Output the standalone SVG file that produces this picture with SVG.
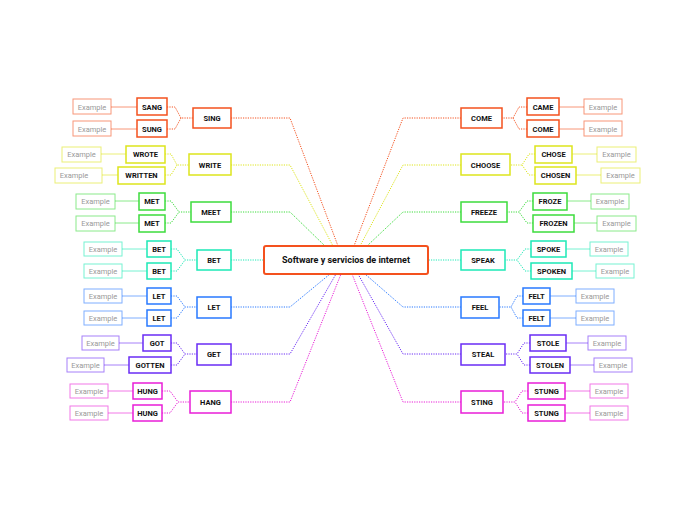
<svg xmlns="http://www.w3.org/2000/svg" width="697" height="520" viewBox="0 0 697 520">
<style>
text{font-family:Roboto,"Liberation Sans",sans-serif;font-size:7.5px;text-anchor:middle;dominant-baseline:central}
.n{fill:#fff;stroke-width:1.5}
.t{font-weight:bold;fill:#111}
.e{fill:#fff;stroke-width:1;stroke-opacity:.6}
.et{fill:#999}
.d{fill:none;stroke-width:1;stroke-dasharray:1.2 1.2}
.s{fill:none;stroke-width:1;stroke-opacity:.6}
.c1{stroke:#f4511e}.c2{stroke:#dde51d}.c3{stroke:#3ddc3d}.c4{stroke:#1de9b6}.c5{stroke:#2979ff}.c6{stroke:#6a2cf5}.c7{stroke:#e91ed7}
</style>
<rect width="697" height="520" fill="#fff"/>
<g id="connectors">
<path class="d c1" d="M231,118H290L338,246"/><path class="d c2" d="M231,165H290L333,246"/><path class="d c3" d="M231,212H290L325,246"/><path class="d c4" d="M231,260H264"/><path class="d c5" d="M231,307H290L330,274"/><path class="d c6" d="M231,354H290L336,274"/><path class="d c7" d="M231,402H290L341,274"/>
<path class="d c1" d="M461,118H403L354,246"/><path class="d c2" d="M461,165H403L360,246"/><path class="d c3" d="M461,212H403L367,246"/><path class="d c4" d="M461,260H428"/><path class="d c5" d="M461,307H403L365,274"/><path class="d c6" d="M461,354H403L358,274"/><path class="d c7" d="M461,402H403L352,274"/>
<path class="d c1" d="M167,107H175L181,118H193M167,129H175L181,118"/>
<path class="d c2" d="M165,154H171L177,165H189M165,175H171L177,165"/>
<path class="d c3" d="M165,201H171L179,212H191M165,223H171L179,212"/>
<path class="d c4" d="M171,249H177L185,260H197M171,271H177L185,260"/>
<path class="d c5" d="M171,296H177L185,307H197M171,318H177L185,307"/>
<path class="d c6" d="M171,343H177L185,354H197M171,365H177L185,354"/>
<path class="d c7" d="M162,391H170L178,402H190M162,413H170L178,402"/>
<path class="d c1" d="M527,107H519L513,118H502M527,129H519L513,118"/>
<path class="d c2" d="M535,154H529L522,165H510M535,175H529L522,165"/>
<path class="d c3" d="M533,201H527L519,212H507M533,223H527L519,212"/>
<path class="d c4" d="M531,249H525L517,260H505M531,271H525L517,260"/>
<path class="d c5" d="M523,296H517L511,307H499M523,318H517L511,307"/>
<path class="d c6" d="M530,343H524L517,354H505M530,365H524L517,354"/>
<path class="d c7" d="M528,391H522L515,402H503M528,413H522L515,402"/>
<path class="s c1" d="M111,107H137M111,129H137M559,107H584M559,129H584"/>
<path class="s c2" d="M101,154H126M102,175H118M572,154H597M576,175H601"/>
<path class="s c3" d="M115,201H139M115,223H139M567,201H591M574,223H597"/>
<path class="s c4" d="M122,249H147M122,271H147M566,249H590M572,271H596"/>
<path class="s c5" d="M122,296H147M122,318H147M550,296H576M550,318H576"/>
<path class="s c6" d="M119,343H143M104,365H129M566,343H588M570,365H594"/>
<path class="s c7" d="M108,391H133M108,413H133M565,391H590M565,413H590"/>
</g>
<g id="center"><rect x="264" y="246" width="164" height="28" rx="2" fill="#fff" stroke="#f4511e" stroke-width="2"/><text x="346" y="260" class="t" style="font-size:9px">Software y servicios de internet</text></g>
<g id="sing"><rect class="n c1" x="193" y="108" width="38" height="20"/><text class="t" x="212" y="118">SING</text>
<rect class="n c1" x="137" y="98" width="30" height="17"/><text class="t" x="152" y="107">SANG</text>
<rect class="n c1" x="137" y="120" width="30" height="17"/><text class="t" x="152" y="129">SUNG</text>
<rect class="e c1" x="73" y="99" width="38" height="15"/><text class="et" x="92" y="107">Example</text>
<rect class="e c1" x="73" y="121" width="38" height="15"/><text class="et" x="92" y="129">Example</text></g>
<g id="write"><rect class="n c2" x="189" y="154" width="42" height="21"/><text class="t" x="210" y="165">WRITE</text>
<rect class="n c2" x="126" y="146" width="39" height="17"/><text class="t" x="145.5" y="154">WROTE</text>
<rect class="n c2" x="118" y="167" width="47" height="17"/><text class="t" x="141.5" y="175">WRITTEN</text>
<rect class="e c2" x="62" y="147" width="39" height="15"/><text class="et" x="81.5" y="154">Example</text>
<rect class="e c2" x="55" y="168" width="47" height="15"/><text class="et" x="74" y="175">Example</text></g>
<g id="meet"><rect class="n c3" x="191" y="202" width="40" height="20"/><text class="t" x="211" y="212">MEET</text>
<rect class="n c3" x="139" y="193" width="26" height="17"/><text class="t" x="152" y="201">MET</text>
<rect class="n c3" x="139" y="215" width="26" height="17"/><text class="t" x="152" y="223">MET</text>
<rect class="e c3" x="76" y="194" width="39" height="15"/><text class="et" x="95.5" y="201">Example</text>
<rect class="e c3" x="76" y="216" width="39" height="15"/><text class="et" x="95.5" y="223">Example</text></g>
<g id="bet"><rect class="n c4" x="197" y="250" width="34" height="20"/><text class="t" x="214" y="260">BET</text>
<rect class="n c4" x="147" y="241" width="24" height="16"/><text class="t" x="159" y="249">BET</text>
<rect class="n c4" x="147" y="263" width="24" height="16"/><text class="t" x="159" y="271">BET</text>
<rect class="e c4" x="84" y="242" width="38" height="14"/><text class="et" x="103" y="249">Example</text>
<rect class="e c4" x="84" y="264" width="38" height="14"/><text class="et" x="103" y="271">Example</text></g>
<g id="let"><rect class="n c5" x="197" y="297" width="34" height="21"/><text class="t" x="214" y="307">LET</text>
<rect class="n c5" x="147" y="288" width="24" height="16"/><text class="t" x="159" y="296">LET</text>
<rect class="n c5" x="147" y="310" width="24" height="16"/><text class="t" x="159" y="318">LET</text>
<rect class="e c5" x="84" y="289" width="38" height="14"/><text class="et" x="103" y="296">Example</text>
<rect class="e c5" x="84" y="311" width="38" height="14"/><text class="et" x="103" y="318">Example</text></g>
<g id="get"><rect class="n c6" x="197" y="344" width="34" height="21"/><text class="t" x="214" y="354">GET</text>
<rect class="n c6" x="143" y="335" width="28" height="16"/><text class="t" x="157" y="343">GOT</text>
<rect class="n c6" x="129" y="357" width="42" height="16"/><text class="t" x="150" y="365">GOTTEN</text>
<rect class="e c6" x="82" y="336" width="37" height="14"/><text class="et" x="100.5" y="343">Example</text>
<rect class="e c6" x="67" y="358" width="37" height="14"/><text class="et" x="85.5" y="365">Example</text></g>
<g id="hang"><rect class="n c7" x="190" y="391" width="41" height="22"/><text class="t" x="210.5" y="402">HANG</text>
<rect class="n c7" x="133" y="383" width="29" height="16"/><text class="t" x="147.5" y="391">HUNG</text>
<rect class="n c7" x="133" y="405" width="29" height="16"/><text class="t" x="147.5" y="413">HUNG</text>
<rect class="e c7" x="70" y="384" width="38" height="14"/><text class="et" x="89" y="391">Example</text>
<rect class="e c7" x="70" y="406" width="38" height="14"/><text class="et" x="89" y="413">Example</text></g>
<g id="come"><rect class="n c1" x="461" y="108" width="41" height="20"/><text class="t" x="481.5" y="118">COME</text>
<rect class="n c1" x="527" y="98" width="32" height="17"/><text class="t" x="543" y="107">CAME</text>
<rect class="n c1" x="527" y="120" width="32" height="17"/><text class="t" x="543" y="129">COME</text>
<rect class="e c1" x="584" y="99" width="38" height="15"/><text class="et" x="603" y="107">Example</text>
<rect class="e c1" x="584" y="121" width="38" height="15"/><text class="et" x="603" y="129">Example</text></g>
<g id="choose"><rect class="n c2" x="461" y="154" width="49" height="21"/><text class="t" x="485.5" y="165">CHOOSE</text>
<rect class="n c2" x="535" y="146" width="37" height="17"/><text class="t" x="553.5" y="154">CHOSE</text>
<rect class="n c2" x="535" y="167" width="41" height="17"/><text class="t" x="555.5" y="175">CHOSEN</text>
<rect class="e c2" x="597" y="147" width="39" height="15"/><text class="et" x="616.5" y="154">Example</text>
<rect class="e c2" x="601" y="168" width="39" height="15"/><text class="et" x="620.5" y="175">Example</text></g>
<g id="freeze"><rect class="n c3" x="461" y="202" width="46" height="20"/><text class="t" x="484" y="212">FREEZE</text>
<rect class="n c3" x="533" y="193" width="34" height="17"/><text class="t" x="550" y="201">FROZE</text>
<rect class="n c3" x="533" y="215" width="41" height="17"/><text class="t" x="553.5" y="223">FROZEN</text>
<rect class="e c3" x="591" y="194" width="38" height="15"/><text class="et" x="610" y="201">Example</text>
<rect class="e c3" x="597" y="216" width="39" height="15"/><text class="et" x="616.5" y="223">Example</text></g>
<g id="speak"><rect class="n c4" x="461" y="250" width="44" height="20"/><text class="t" x="483" y="260">SPEAK</text>
<rect class="n c4" x="531" y="241" width="35" height="16"/><text class="t" x="548.5" y="249">SPOKE</text>
<rect class="n c4" x="531" y="263" width="41" height="16"/><text class="t" x="551.5" y="271">SPOKEN</text>
<rect class="e c4" x="590" y="242" width="38" height="14"/><text class="et" x="609" y="249">Example</text>
<rect class="e c4" x="596" y="264" width="38" height="14"/><text class="et" x="615" y="271">Example</text></g>
<g id="feel"><rect class="n c5" x="461" y="297" width="38" height="21"/><text class="t" x="480" y="307">FEEL</text>
<rect class="n c5" x="523" y="288" width="27" height="16"/><text class="t" x="536.5" y="296">FELT</text>
<rect class="n c5" x="523" y="310" width="27" height="16"/><text class="t" x="536.5" y="318">FELT</text>
<rect class="e c5" x="576" y="289" width="38" height="14"/><text class="et" x="595" y="296">Example</text>
<rect class="e c5" x="576" y="311" width="38" height="14"/><text class="et" x="595" y="318">Example</text></g>
<g id="steal"><rect class="n c6" x="461" y="344" width="44" height="21"/><text class="t" x="483" y="354">STEAL</text>
<rect class="n c6" x="530" y="335" width="36" height="16"/><text class="t" x="548" y="343">STOLE</text>
<rect class="n c6" x="530" y="357" width="40" height="16"/><text class="t" x="550" y="365">STOLEN</text>
<rect class="e c6" x="588" y="336" width="38" height="14"/><text class="et" x="607" y="343">Example</text>
<rect class="e c6" x="594" y="358" width="38" height="14"/><text class="et" x="613" y="365">Example</text></g>
<g id="sting"><rect class="n c7" x="461" y="391" width="42" height="22"/><text class="t" x="482" y="402">STING</text>
<rect class="n c7" x="528" y="383" width="37" height="16"/><text class="t" x="546.5" y="391">STUNG</text>
<rect class="n c7" x="528" y="405" width="37" height="16"/><text class="t" x="546.5" y="413">STUNG</text>
<rect class="e c7" x="590" y="384" width="38" height="14"/><text class="et" x="609" y="391">Example</text>
<rect class="e c7" x="590" y="406" width="38" height="14"/><text class="et" x="609" y="413">Example</text></g>
</svg>
